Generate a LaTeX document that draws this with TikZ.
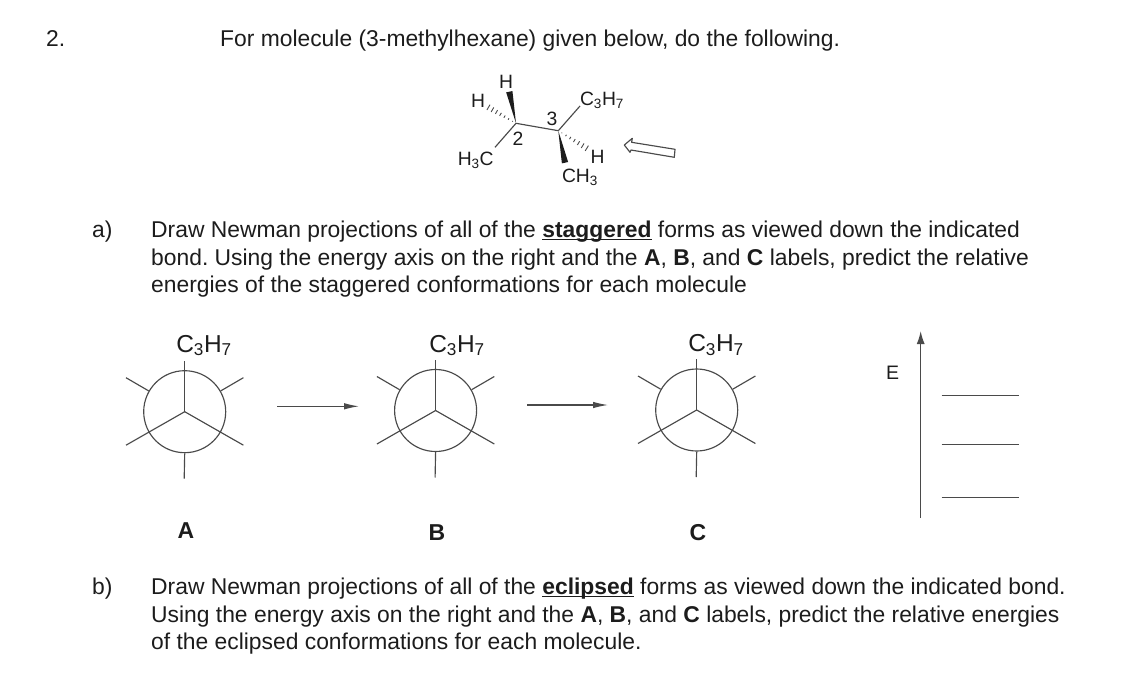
\documentclass[tikz,border=0pt]{standalone}
\usepackage{fontspec}
\setmainfont{Liberation Sans}
\frenchspacing
\usetikzlibrary{calc,arrows.meta}
\definecolor{bondgray}{HTML}{4A4A4A}
\definecolor{inkblack}{HTML}{1C1C1C}
\tikzset{
  every node/.style={inner sep=0pt,text=inkblack},
  textline/.style={anchor=base west,font=\fontsize{22.85}{27}\selectfont},
  chemlabel/.style={font=\fontsize{19.3}{22}\selectfont},
  newmanlabel/.style={font=\fontsize{24.5}{28}\selectfont},
  conflabel/.style={font=\fontsize{23}{27}\selectfont\bfseries},
  bond/.style={draw=bondgray,line width=1.15pt},
  newmanring/.style={circle,draw=bondgray,line width=1.15pt,minimum size=82pt},
  rxnarrow/.style={draw=bondgray,line width=1.15pt,-{Latex[length=15pt,width=6.5pt]}},
  level/.style={draw=bondgray,line width=1.15pt}
}
\newcommand{\hashbond}[2]{
  \foreach \t in {0.12,0.26,0.40,0.54,0.68,0.82,0.96}{
    \pgfmathsetmacro{\w}{\t*3.2}
    \draw[bond,line width=0.9pt] ($(#1)!\t!(#2)!\w pt!90:(#2)$) -- ($(#1)!\t!(#2)!\w pt!-90:(#2)$);
  }
}
\newcommand{\ulbold}[1]{\setbox0=\hbox{\textbf{#1}}\rlap{\rule[-3.2pt]{\wd0}{1.6pt}}\box0\relax}
\begin{document}
\begin{tikzpicture}[x=1pt,y=-1pt]
\useasboundingbox (0,0) rectangle (1125,696);

\node[textline] (qnum) at (46,46) {2.};
\node[textline] (qtext) at (220,46) {For molecule (3-methylhexane) given below, do the following.};

\coordinate (c2) at (516,123.3);
\coordinate (c3) at (558.3,130.7);
\coordinate (hmeth) at (495,147.3);
\coordinate (propyl) at (580,106);
\coordinate (hup) at (509.3,91.7);
\coordinate (hleft) at (487.3,106.7);
\coordinate (meth) at (565,162.7);
\coordinate (hright) at (588,149);
\draw[bond] (c2) -- (c3);
\draw[bond] (c2) -- (hmeth);
\draw[bond] (c3) -- (propyl);
\fill[inkblack] (c2) -- ($(hup)!3.2pt!90:(c2)$) -- ($(hup)!3.2pt!-90:(c2)$) -- cycle;
\fill[inkblack] (c3) -- ($(meth)!3.2pt!90:(c3)$) -- ($(meth)!3.2pt!-90:(c3)$) -- cycle;
\hashbond{c2}{hleft}
\hashbond{c3}{hright}
\node[chemlabel] (lbhup) at (506,81.7) {H};
\node[chemlabel] (lbhleft) at (478,100.7) {H};
\node[chemlabel] (lbpropyl) at (602,100) {C\textsubscript{3}H\textsubscript{7}};
\node[chemlabel] (lbthree) at (552,119) {3};
\node[chemlabel] (lbtwo) at (518,139) {2};
\node[chemlabel] (lbhmeth) at (475.7,160) {H\textsubscript{3}C};
\node[chemlabel] (lbhright) at (597.7,156.7) {H};
\node[chemlabel] (lbmeth) at (580,177.5) {CH\textsubscript{3}};

\draw[draw=bondgray,line width=1.15pt,line join=round] (624.3,145) -- (632.3,138.3) -- (631.6,142.3) -- (675,149.3) -- (674.3,157.3) -- (631,150) -- (630,152.3) -- cycle;

\node[textline] (alabel) at (92,237) {a)};
\node[textline] (aone) at (151,237) {Draw Newman projections of all of the \ulbold{staggered} forms as viewed down the indicated};
\node[textline] (atwo) at (151,265) {bond. Using the energy axis on the right and the \textbf{A}, \textbf{B}, and \textbf{C} labels, predict the relative};
\node[textline] (athree) at (151,292) {energies of the staggered conformations for each molecule};

\foreach \nm/\cx/\cy in {A/184.7/411.7,B/435.6/410.5,C/696.7/410}{
  \node[newmanring] (ring\nm) at (\cx,\cy) {};
  \coordinate (top\nm) at (\cx,\cy-50.7);
  \coordinate (fl\nm) at (\cx-58.7,\cy+33.5);
  \coordinate (fr\nm) at (\cx+58.7,\cy+33.5);
  \coordinate (rb\nm) at (\cx-0.5,\cy+67);
  \coordinate (rl\nm) at (\cx-58.7,\cy-34);
  \coordinate (rr\nm) at (\cx+58.7,\cy-34);
  \draw[bond] (ring\nm.center) -- (top\nm);
  \draw[bond] (ring\nm.center) -- (fl\nm);
  \draw[bond] (ring\nm.center) -- (fr\nm);
  \draw[bond] (ring\nm.south) -- (rb\nm);
  \draw[bond] (ring\nm.150) -- (rl\nm);
  \draw[bond] (ring\nm.30) -- (rr\nm);
}
\node[newmanlabel] (propylA) at (204,345.5) {C\textsubscript{3}H\textsubscript{7}};
\node[newmanlabel] (propylB) at (457,345.5) {C\textsubscript{3}H\textsubscript{7}};
\node[newmanlabel] (propylC) at (716,345) {C\textsubscript{3}H\textsubscript{7}};

\coordinate (arrowAs) at (277,406.3);
\coordinate (arrowAe) at (359,406.3);
\coordinate (arrowBs) at (527,405);
\coordinate (arrowBe) at (608,405);
\draw[rxnarrow] (arrowAs) -- (arrowAe);
\draw[rxnarrow] (arrowBs) -- (arrowBe);

\node[conflabel] (confA) at (186,531) {A};
\node[conflabel] (confB) at (437,533) {B};
\node[conflabel] (confC) at (698,533) {C};

\coordinate (axisbot) at (920.7,518);
\coordinate (axistop) at (920.7,331);
\draw[draw=bondgray,line width=1.4pt,-{Latex[length=13pt,width=8pt]}] (axisbot) -- (axistop);
\node[font=\fontsize{19.5}{22}\selectfont] (elabel) at (892.7,373) {E};
\foreach \lv/\ly in {hi/395.7,mid/444.7,lo/497.3}{
  \coordinate (\lv l) at (941.7,\ly);
  \coordinate (\lv r) at (1019,\ly);
  \draw[level] (\lv l) -- (\lv r);
}

\node[textline] (blabel) at (92,594) {b)};
\node[textline] (bone) at (151,594) {Draw Newman projections of all of the \ulbold{eclipsed} forms as viewed down the indicated bond.};
\node[textline] (btwo) at (151,622) {Using the energy axis on the right and the \textbf{A}, \textbf{B}, and \textbf{C} labels, predict the relative energies};
\node[textline] (bthree) at (151,649) {of the eclipsed conformations for each molecule.};
\end{tikzpicture}
\end{document}
